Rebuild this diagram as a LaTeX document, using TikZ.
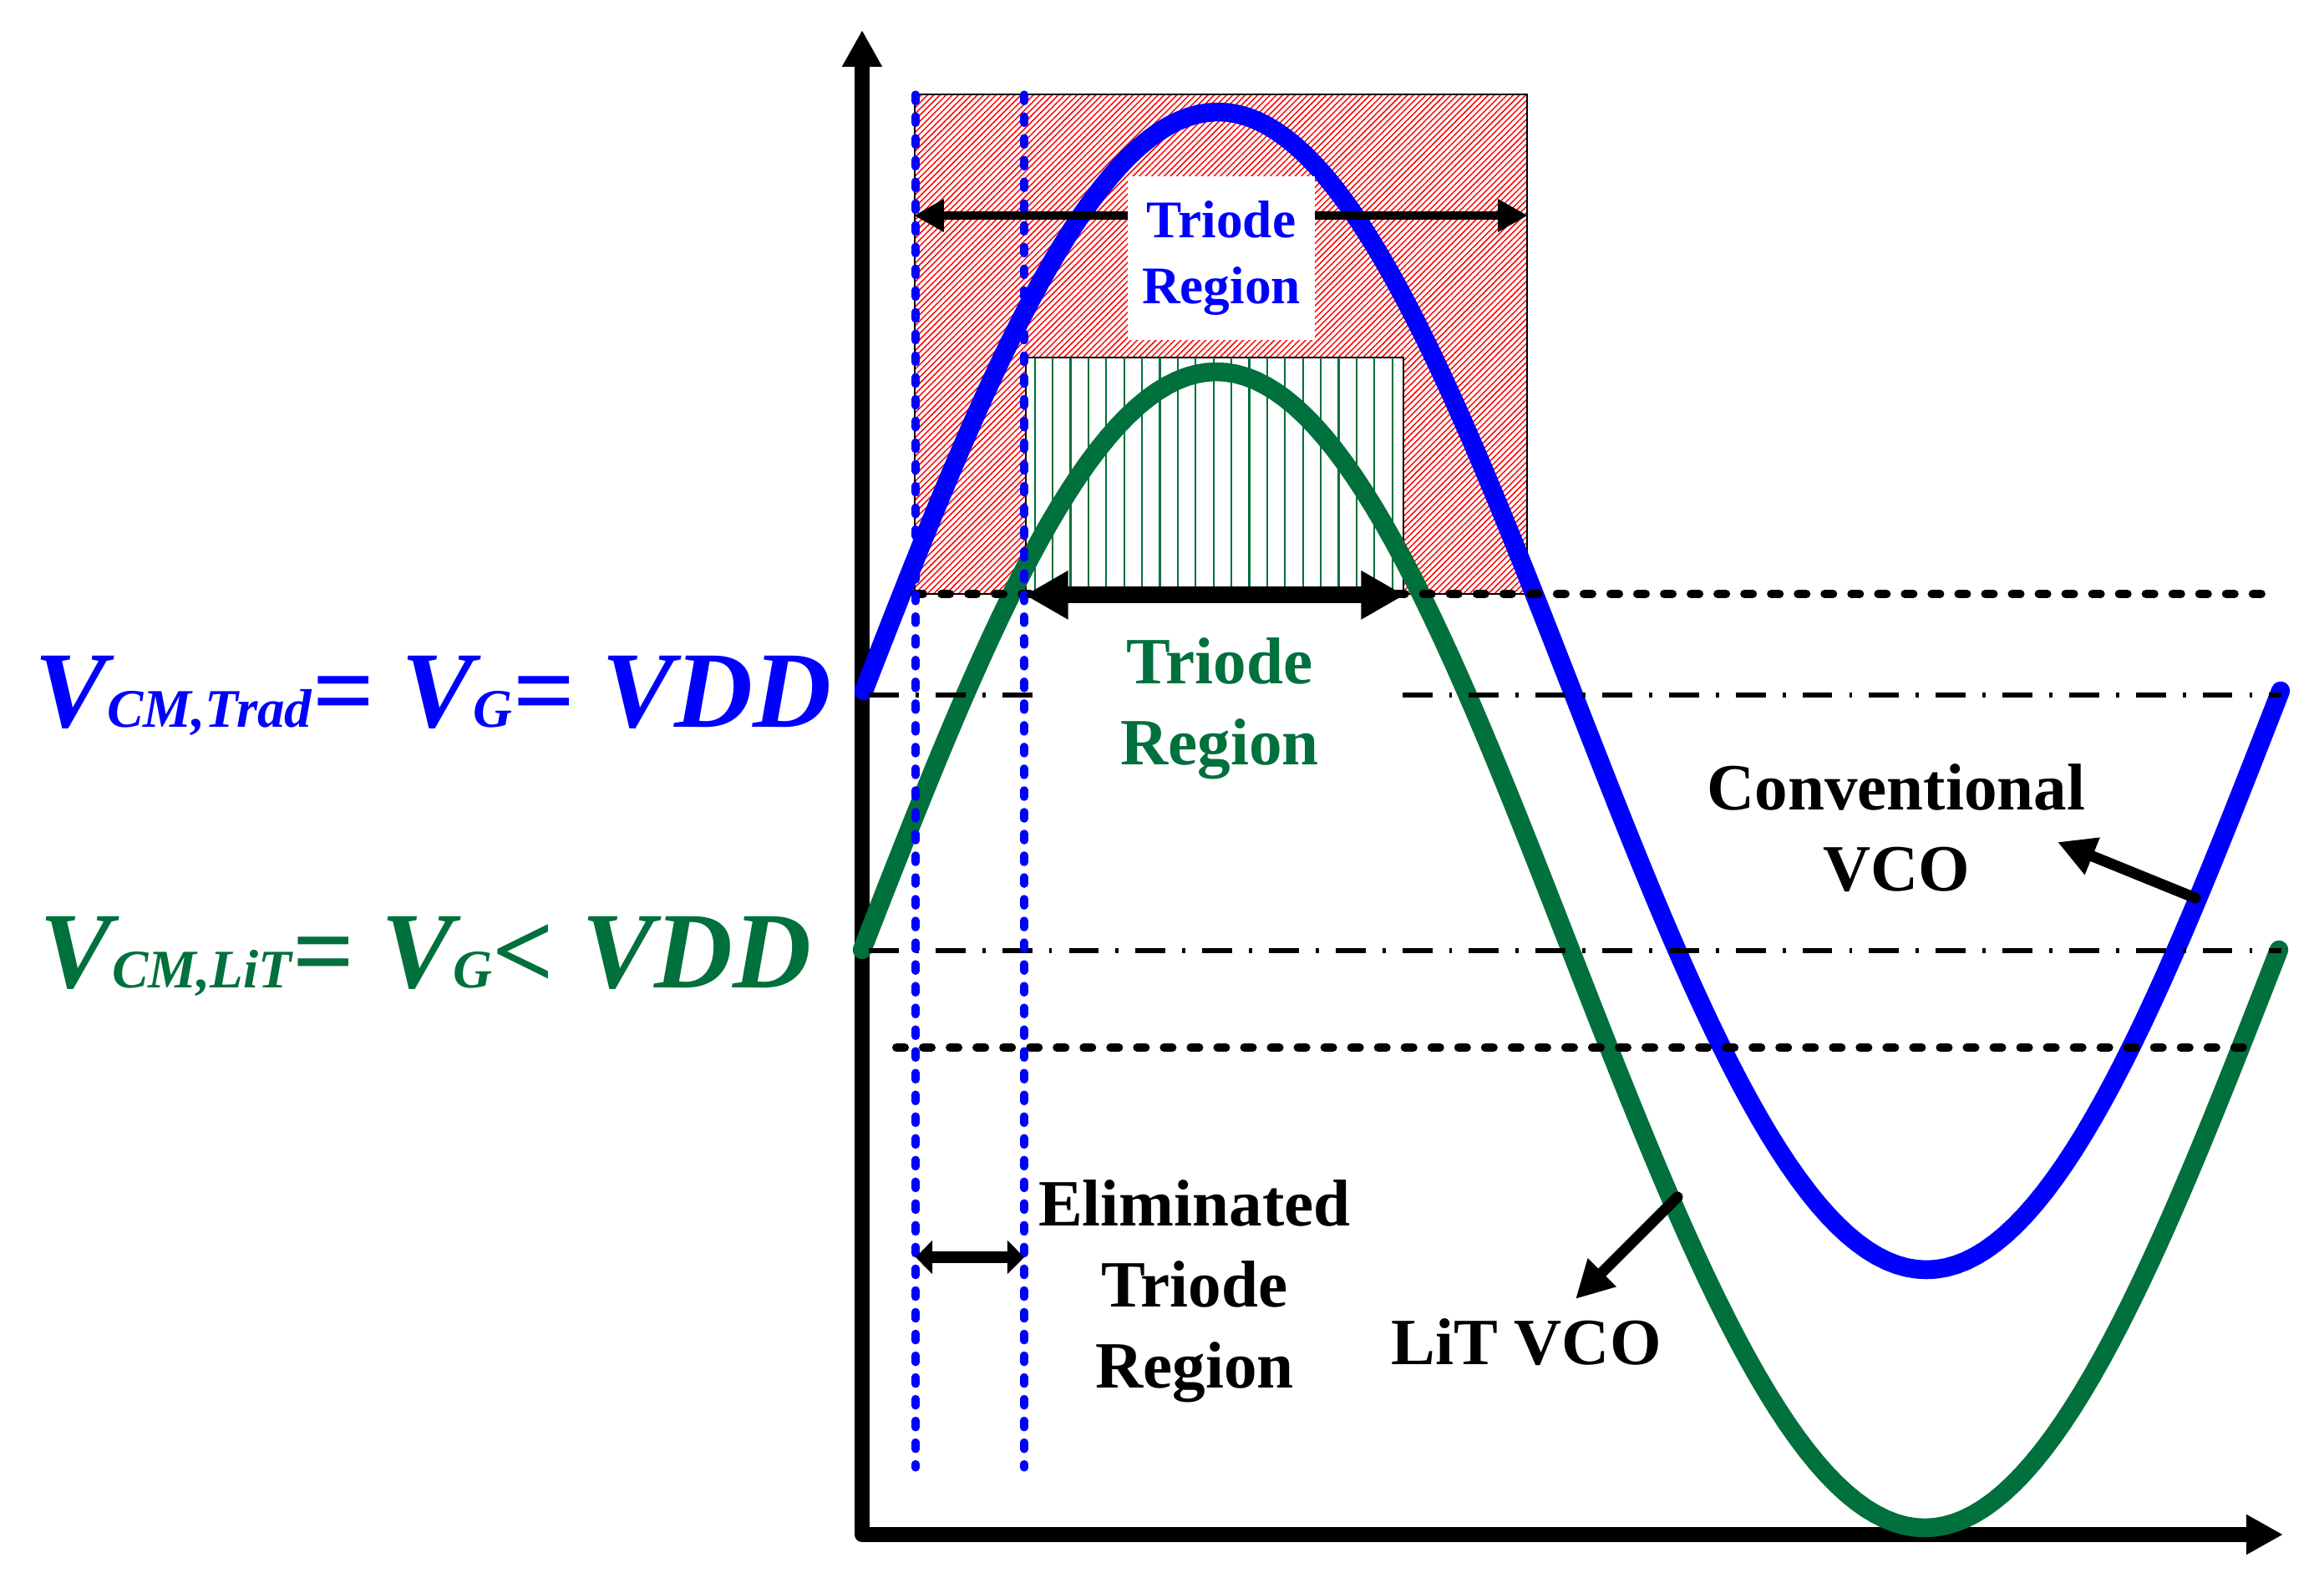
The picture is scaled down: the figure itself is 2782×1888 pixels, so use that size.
\documentclass[tikz,border=0pt]{standalone}
\usepackage{fontspec}
\setmainfont{Liberation Serif}
\usetikzlibrary{arrows.meta, patterns.meta}
\definecolor{vblue}{RGB}{0,0,255}
\definecolor{vgreen}{RGB}{0,112,60}
\newcommand{\smallsub}[1]{{\fontsize{18.5}{22}\selectfont #1}}
\tikzset{
    %Define arrow tips
    axtip/.tip={Triangle[length=12.5pt, width=12.8pt]},
    toptip/.tip={Triangle[length=10.2pt, width=10.5pt]},
    midtip/.tip={Triangle[length=14.8pt, width=15.6pt]},
    elimtip/.tip={Triangle[length=5.7pt, width=11.1pt]},
    pointtip/.tip={Triangle[length=12.8pt, width=12.8pt]},
    %Define style for the hatched regions
    redregion/.style={
           rectangle,
           draw=black, line width=0.7pt,
           preaction={fill=white},
           pattern={Lines[angle=45, distance=1.5pt, line width=0.42pt]},
           pattern color=red},
    greenregion/.style={
           rectangle,
           draw=black, line width=0.7pt,
           fill=white},
    %Define style for labels
    note/.style={
           align=center,
           inner sep=0pt,
           font=\fontsize{22.5}{27.6}\selectfont\bfseries},
    formula/.style={
           anchor=base east,
           inner sep=0pt,
           font=\fontsize{37}{44}\selectfont\bfseries\itshape},
    % Define arrow style
    pointer/.style={
           line width=3.7pt,
           line cap=round,
           arrows={-pointtip}}
}

\begin{document}
\begin{tikzpicture}[x=0.01cm, y=-0.01cm]
\useasboundingbox (0,0) rectangle (2782,1888);

% Style for waveforms and level lines
\tikzstyle{wave}=[line width=6.4pt, line cap=round, line join=round]
\tikzstyle{dashdot}=[line width=1.6pt, dash pattern=on 10.2pt off 5.7pt on 1.1pt off 5.7pt]
\tikzstyle{dotline}=[line width=2.85pt, line cap=round, dash pattern=on 2.85pt off 6.26pt]
\tikzstyle{bound}=[vblue, line width=2.6pt, line cap=round, dash pattern=on 2.4pt off 5pt]

% Triode regions
\node[redregion, minimum width=7.33cm, minimum height=5.98cm] (red) at (1461.5,412) {};
\node[greenregion, minimum width=4.52cm, minimum height=2.83cm] (grn) at (1454,569.5) {};
\foreach \k in {0,...,20}
    \draw[vgreen, line width=0.65pt] ({1238.7+21.4*\k},428) -- ++(0,283);

% Axes
\coordinate (org) at (1032,1837);
\draw[line width=5.1pt, line join=round, arrows={axtip-axtip}] (1032,36) -- (org) -- (2733,1837);

% Waveforms
\draw[wave, vgreen] plot[domain=0:360, samples=145] ({1032+4.7111*\x}, {1137-692*sin(\x)});
\draw[wave, vblue] plot[domain=0:360, samples=145] ({1034+4.7111*\x}, {827-693*sin(\x)});

% Levels
\draw[dashdot] (1040,832) -- (2731,832);
\draw[dashdot] (1040,1138) -- (2731,1138);
\draw[dotline] (1095,711) -- (2727,711);
\draw[dotline] (1073,1254) -- (2700,1254);

% Bounds of the eliminated region
\coordinate (b1) at (1096,113);
\coordinate (b2) at (1226,113);
\draw[bound] (b1) -- (1096,1757);
\draw[bound] (b2) -- (1226,1757);

% Arrows
\coordinate (rowA) at (0,258);
\coordinate (rowE) at (0,1505);
\draw[line width=3.1pt, arrows={toptip-toptip}] (red.west |- rowA) -- (red.east |- rowA);
\draw[line width=5.7pt, arrows={midtip-midtip}] (grn.south west) -- (grn.south east);
\draw[line width=4pt, arrows={elimtip-elimtip}] (b1 |- rowE) -- (b2 |- rowE);
\coordinate (convtail) at (2628,1075);
\coordinate (convtip) at (2463,1008);
\coordinate (littail) at (2008,1433);
\coordinate (littip) at (1886,1555);
\draw[pointer] (convtail) -- (convtip);
\draw[pointer] (littail) -- (littip);

% Labels
\node[fill=white, text=vblue, align=center, inner sep=0pt, minimum width=2.24cm, minimum height=1.96cm,
      font=\fontsize{18}{22.2}\selectfont\bfseries] (tri1) at (1462,309) {Triode\\Region};
\node[note, fill=white, text=vgreen, minimum width=4.17cm, inner ysep=2pt] (tri2) at (1460,848) {Triode\\Region};
\node[note] (elim) at (1430,1546) {Eliminated\\Triode\\Region};
\node[note, anchor=base] (lit) at (1827,1633) {LiT VCO};
\node[note] (conv) at (2270,991) {Conventional\\VCO};
\node[formula, text=vblue] (vtrad) at (996,870) {V\smallsub{CM,Trad}= V\smallsub{G}= VDD};
\node[formula, text=vgreen] (vlit) at (972,1182) {V\smallsub{CM,LiT}= V\smallsub{G}< VDD};

\end{tikzpicture}
\end{document}
